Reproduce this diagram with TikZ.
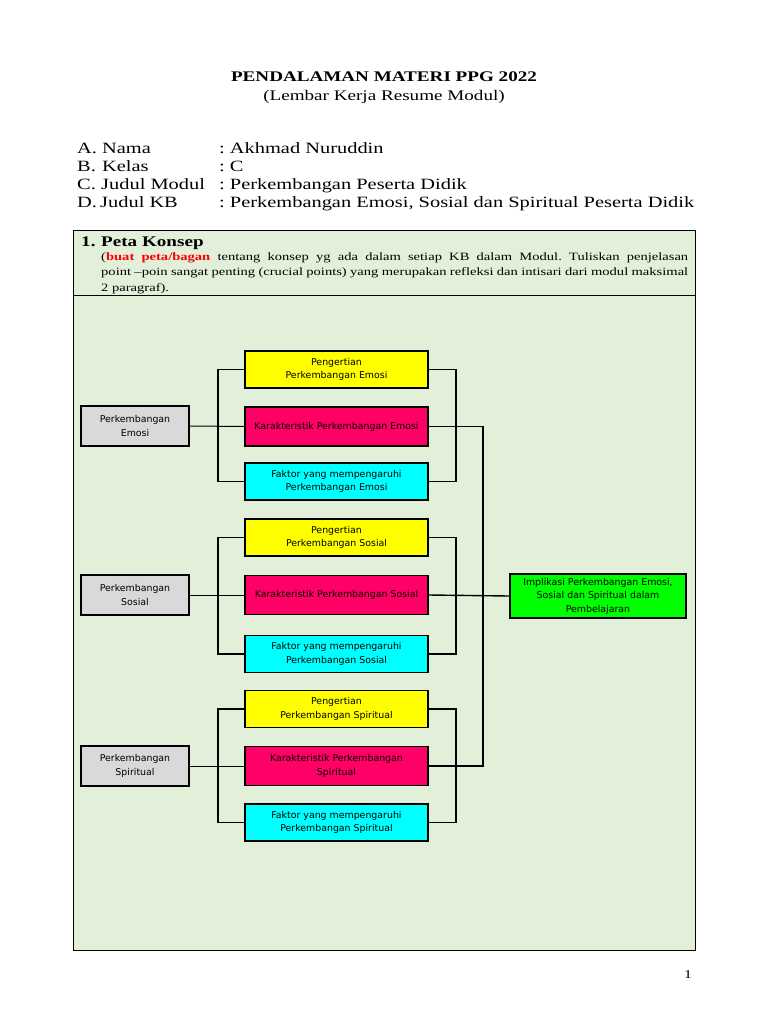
\documentclass[tikz,border=0pt]{standalone}
\usepackage{fontspec}
\setmainfont{Liberation Serif}[FakeStretch=1.3]
\newfontfamily\boxfont{DejaVu Sans}
\definecolor{panel}{HTML}{E2EFD9}
\definecolor{gry}{HTML}{D9D9D9}
\definecolor{yel}{HTML}{FFFF00}
\definecolor{mag}{HTML}{FF0066}
\definecolor{cya}{HTML}{00FFFF}
\definecolor{grn}{HTML}{00FF00}
\definecolor{redtxt}{HTML}{FF0000}
\frenchspacing
\begin{document}
\begin{tikzpicture}[x=1pt,y=-1pt,
  cbox/.style={draw=black,line width=1.6pt,minimum width=183pt,align=center,inner sep=1pt,
    font=\boxfont\fontsize{9.4}{13.5}\selectfont},
  lbox/.style={cbox,fill=gry,minimum width=108pt,minimum height=40pt},
  ybox/.style={cbox,fill=yel,minimum height=37pt},
  mbox/.style={cbox,fill=mag,minimum height=39pt},
  qbox/.style={cbox,fill=cya,minimum height=37pt},
  gbox/.style={cbox,fill=grn,minimum width=176pt,minimum height=44pt},
  conn/.style={draw=black,line width=1.4pt},
  thin/.style={draw=black,line width=1pt},
  info/.style={anchor=base west,inner sep=0pt,font=\fontsize{15.7}{18}\selectfont}]
\useasboundingbox (0,0) rectangle (768,1024);
\fill[white] (0,0) rectangle (768,1024);
% title
\node[inner sep=0pt,anchor=base,font=\bfseries\fontsize{14.7}{17}\selectfont] (title) at (384,82) {PENDALAMAN MATERI PPG 2022};
\node[inner sep=0pt,anchor=base,font=\fontsize{14.7}{17}\selectfont] (subtitle) at (384,101) {(Lembar Kerja Resume Modul)};
% info
\node[info] (la) at (77,154) {A.};
\node[info] (na) at (102,154) {Nama};
\node[info] (ca) at (219,154) {: Akhmad Nuruddin};
\node[info] (lb) at (77,172) {B.};
\node[info] (nb) at (102,172) {Kelas};
\node[info] (cb) at (219,172) {: C};
\node[info] (lc) at (77,190) {C.};
\node[info] (nc) at (101,190) {Judul Modul};
\node[info] (cc) at (219,190) {: Perkembangan Peserta Didik};
\node[info] (ld) at (77,208) {D.};
\node[info] (nd) at (100,208) {Judul KB};
\node[info] (cd) at (219,208) {: Perkembangan Emosi, Sosial dan Spiritual Peserta Didik};
% panel
\fill[panel] (73,231) rectangle (695,950);
\draw[line width=1pt] (73,231) rectangle (695,950);
\draw[line width=1pt] (73,295) -- (695,295);
\node[anchor=base west,inner sep=0pt,font=\bfseries\fontsize{14.7}{17}\selectfont] (h1) at (81,246) {1.};
\node[anchor=base west,inner sep=0pt,font=\bfseries\fontsize{14.7}{17}\selectfont] (h2) at (101,246) {Peta Konsep};
\node[anchor=north west,inner sep=0pt,text width=587pt,align=justify,font=\fontsize{11.2}{15.5}\selectfont] (para) at (101,252.5)
 {\emergencystretch=3em\hbadness=10000\hfuzz=30pt(\textbf{\textcolor{redtxt}{buat peta/bagan}} tentang konsep yg ada dalam setiap KB dalam Modul. Tuliskan penjelasan\linebreak
 point –poin sangat penting (crucial points) yang merupakan refleksi dan intisari dari modul maksimal\linebreak
 2 paragraf).};
% coordinates for brackets
\coordinate (lbx) at (218,0);
\coordinate (rbx) at (456,0);
\coordinate (spine) at (483,0);
% Emosi
\node[lbox] (le) at (135,426) {Perkembangan\\Emosi};
\node[ybox] (ye) at (336.5,369.5) {Pengertian\\Perkembangan Emosi};
\node[mbox] (me) at (336.5,426.5) {Karakteristik Perkembangan Emosi};
\node[qbox] (ce) at (336.5,481.5) {Faktor yang mempengaruhi\\Perkembangan Emosi};
% Sosial
\node[lbox] (ls) at (135,595) {Perkembangan\\Sosial};
\node[ybox] (ys) at (336.5,537.5) {Pengertian\\Perkembangan Sosial};
\node[mbox] (ms) at (336.5,595) {Karakteristik Perkembangan Sosial};
\node[qbox] (cs) at (336.5,654) {Faktor yang mempengaruhi\\Perkembangan Sosial};
% Spiritual
\node[lbox] (lp) at (135,766) {Perkembangan\\Spiritual};
\node[ybox] (yp) at (336.5,709) {Pengertian\\Perkembangan Spiritual};
\node[mbox] (mp) at (336.5,766) {Karakteristik Perkembangan\\Spiritual};
\node[qbox] (cp) at (336.5,822.5) {Faktor yang mempengaruhi\\Perkembangan Spiritual};
% implication
\node[gbox] (imp) at (598,596) {Implikasi Perkembangan Emosi,\\Sosial dan Spiritual dalam\\Pembelajaran};
% connectors
\foreach \g in {e,s,p}{
  \draw[thin] (l\g.east) -- (m\g.west);
  \draw[conn] (y\g.west) -- (y\g.west -| lbx) -- (c\g.west -| lbx) -- (c\g.west);
  \draw[conn] (y\g.east) -- (y\g.east -| rbx) -- (c\g.east -| rbx) -- (c\g.east);
}
\draw[conn] (me.east) -- (me.east -| spine) -- (mp.east -| spine) -- (mp.east);
\draw[conn] (ms.east) -- (imp.west);
% page number
\node[anchor=base east,inner sep=0pt,font=\fontsize{12}{14}\selectfont] (pg) at (692,978) {1};
\end{tikzpicture}
\end{document}
